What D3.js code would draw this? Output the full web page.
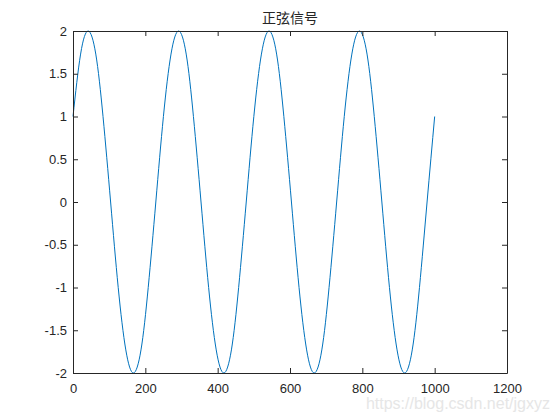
<!DOCTYPE html>
<html>
<head>
<meta charset="utf-8">
<script src="https://cdn.jsdelivr.net/npm/d3@7"></script>
<style>
  body { margin: 0; background: #fff; }
  svg { display: block; }
</style>
</head>
<body>
<div id="chart"></div>
<script>
// sample points
var xValues = [0, 21, 42, 63, 83, 104, 125, 146, 167, 188, 208, 229,
               250, 271, 292, 313, 333, 354, 375, 396, 417, 438, 458, 479,
               500, 521, 542, 563, 583, 604, 625, 646, 667, 688, 708, 729,
               750, 771, 792, 813, 833, 854, 875, 896, 917, 938, 958, 979,
               1000];
var yValues = [1, 1.73, 2, 1.73, 1, 0, -1, -1.73, -2, -1.73, -1, 0,
               1, 1.73, 2, 1.73, 1, 0, -1, -1.73, -2, -1.73, -1, 0,
               1, 1.73, 2, 1.73, 1, 0, -1, -1.73, -2, -1.73, -1, 0,
               1, 1.73, 2, 1.73, 1, 0, -1, -1.73, -2, -1.73, -1, 0,
               1];
var xTicks = [0, 200, 400, 600, 800, 1000, 1200];
var yTicks = [-2, -1.5, -1, -0.5, 0, 0.5, 1, 1.5, 2];
var titleText = "正弦信号";
var watermark = "https://blog.csdn.net/jgxyz";

var W = 560, H = 420;
var margin = {left: 73, top: 31, right: 53, bottom: 47};
var w = W - margin.left - margin.right;
var h = H - margin.top - margin.bottom;

var data = xValues.map(function(x, i) { return {x: x, y: yValues[i]}; });

var xScale = d3.scaleLinear().domain([0, 1200]).range([0, w]);
var yScale = d3.scaleLinear().domain([-2, 2]).range([h, 0]);

var svg = d3.select("#chart").append("svg")
    .attr("width", W)
    .attr("height", H);

var g = svg.append("g")
    .attr("transform", "translate(" + margin.left + "," + margin.top + ")");

var line = d3.line()
    .x(function(d) { return xScale(d.x); })
    .y(function(d) { return yScale(d.y); })
    .curve(d3.curveNatural);

g.append("path")
    .datum(data)
    .attr("d", line)
    .attr("fill", "none")
    .attr("stroke", "#0072BD")
    .attr("stroke-width", 1);

var fmt = function(d) { return String(d); };
var axisFont = "'Liberation Sans', Arial, sans-serif";

g.append("g")
    .attr("transform", "translate(0," + h + ")")
    .call(d3.axisBottom(xScale).tickValues(xTicks).tickFormat(fmt)
          .tickSizeInner(-5).tickSizeOuter(0).tickPadding(11));

g.append("g")
    .call(d3.axisTop(xScale).tickValues(xTicks).tickFormat("")
          .tickSizeInner(-5).tickSizeOuter(0));

g.append("g")
    .call(d3.axisLeft(yScale).tickValues(yTicks).tickFormat(fmt)
          .tickSizeInner(-5).tickSizeOuter(0).tickPadding(6));

g.append("g")
    .attr("transform", "translate(" + w + ",0)")
    .call(d3.axisRight(yScale).tickValues(yTicks).tickFormat("")
          .tickSizeInner(-5).tickSizeOuter(0));

g.selectAll(".domain, .tick line")
    .attr("stroke", "#262626")
    .attr("stroke-width", 1);
g.selectAll(".tick text")
    .attr("fill", "#262626")
    .style("font-family", axisFont)
    .style("font-size", "13px");

svg.append("text")
    .attr("x", margin.left + w / 2)
    .attr("y", 23)
    .attr("text-anchor", "middle")
    .attr("fill", "#262626")
    .style("font-family", "'Noto Sans CJK SC', sans-serif")
    .style("font-size", "14px")
    .text(titleText);

svg.append("text")
    .attr("x", 550)
    .attr("y", 409)
    .attr("text-anchor", "end")
    .attr("fill", "#e6e6e6")
    .style("font-family", axisFont)
    .style("font-size", "16px")
    .text(watermark);
</script>
</body>
</html>
